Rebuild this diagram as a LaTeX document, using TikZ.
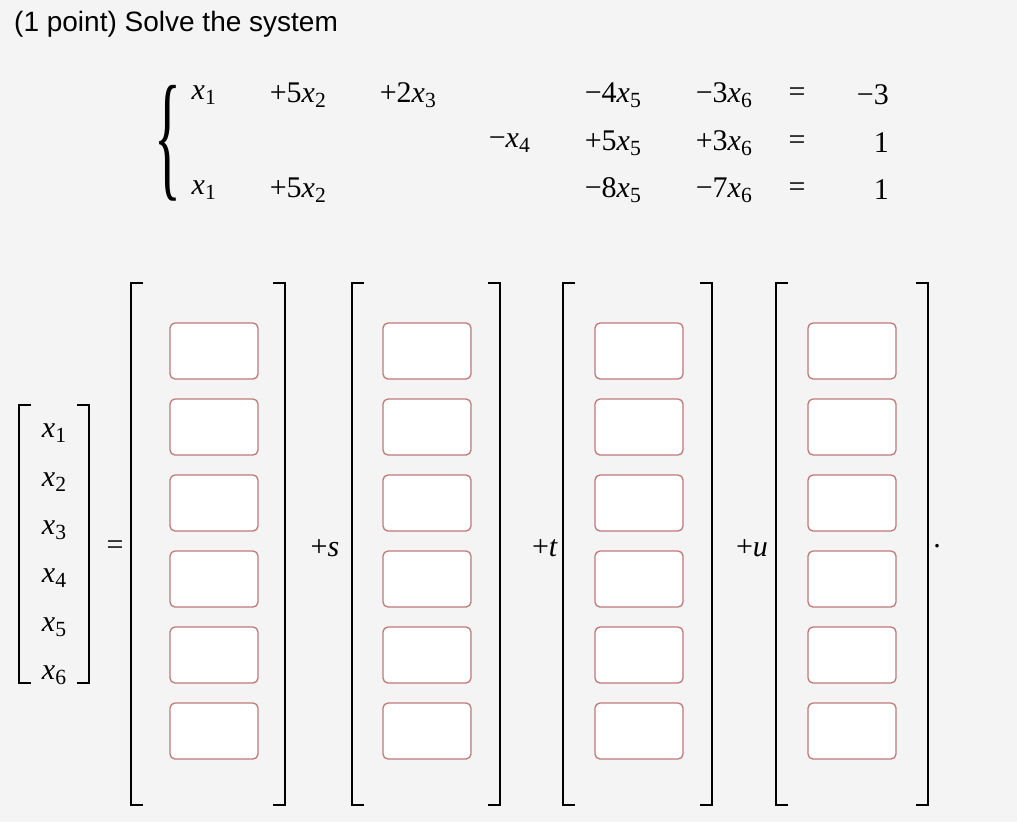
\documentclass[tikz,border=0pt]{standalone}
\usepackage{fontspec}
\usepackage{graphicx}
\setmainfont{Liberation Serif}
\newfontfamily\titlefont{Liberation Sans}
\definecolor{bg}{HTML}{F4F4F4}
\definecolor{boxc}{HTML}{C07878}
\newcommand{\xv}[1]{\textit{x}\raisebox{-0.35ex}{\scalebox{0.72}{#1}}}
\tikzset{
  m/.style={font=\fontsize{30}{34}\selectfont, inner sep=0pt},
  mr/.style={m, anchor=east},
  ansbox/.style={draw=boxc, line width=1.3pt, fill=white, rounded corners=5pt, minimum width=88pt, minimum height=56pt, inner sep=0pt},
  brk/.style={line width=1.4pt}
}
\begin{document}
\begin{tikzpicture}[x=1pt,y=-1pt]
\fill[bg] (0,0) rectangle (1017,822);
\useasboundingbox (0,0) rectangle (1017,822);
\node[anchor=west, inner sep=0pt, font=\titlefont\fontsize{28}{32}\selectfont] (title) at (14,24) {(1 point) Solve the system};
% brace
\node[inner sep=0pt] (brace) at (168,143) {\scalebox{0.8}[2.0]{\fontsize{70}{76}\selectfont\{}};
% row 1
\node[mr] (a11) at (216,95) {\xv{1}};
\node[mr] (a12) at (326,95) {+5\xv{2}};
\node[mr] (a13) at (436,95) {+2\xv{3}};
\node[mr] (a15) at (641,95) {−4\xv{5}};
\node[mr] (a16) at (752,95) {−3\xv{6}};
\node[m] (e1) at (797,95) {=};
\node[mr] (r1) at (889,95) {−3};
% row 2
\node[mr] (a24) at (530,143) {−\xv{4}};
\node[mr] (a25) at (641,143) {+5\xv{5}};
\node[mr] (a26) at (752,143) {+3\xv{6}};
\node[m] (e2) at (797,143) {=};
\node[mr] (r2) at (889,143) {1};
% row 3
\node[mr] (a31) at (216,190) {\xv{1}};
\node[mr] (a32) at (326,190) {+5\xv{2}};
\node[mr] (a35) at (641,190) {−8\xv{5}};
\node[mr] (a36) at (752,190) {−7\xv{6}};
\node[m] (e3) at (797,190) {=};
\node[mr] (r3) at (889,190) {1};
% left vector
\draw[brk] (31,405) -- (19,405) -- (19,683) -- (31,683);
\draw[brk] (77,405) -- (89,405) -- (89,683) -- (77,683);
\foreach \i/\y in {1/433,2/482,3/530,4/578,5/627,6/675}
  \node[m] (v\i) at (54,\y) {\xv{\i}};
\node[m] (eq) at (115,548) {=};
% big vectors
\foreach \k/\l/\r/\bx in {1/131/285/214,2/352/500/427,3/563/712/639,4/776/928/852}{
  \draw[brk] (\l+12,283) -- (\l,283) -- (\l,805) -- (\l+12,805);
  \draw[brk] (\r-12,283) -- (\r,283) -- (\r,805) -- (\r-12,805);
  \foreach \j/\y in {1/351,2/427,3/503,4/579,5/655,6/731}
    \node[ansbox] (b\k\j) at (\bx,\y) {};
}
\node[m] (ps) at (325,548) {+\textit{s}};
\node[m] (pt) at (545,548) {+\textit{t}};
\node[m] (pu) at (752,548) {+\textit{u}};
\node[m] (dot) at (937,546) {.};
\end{tikzpicture}
\end{document}
